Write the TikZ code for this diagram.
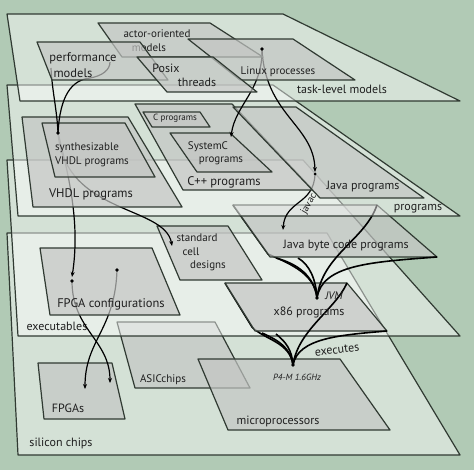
\documentclass[tikz,border=0pt]{standalone}
\usepackage{fontspec}
\setmainfont{PT Sans}
\usetikzlibrary{arrows.meta}
\definecolor{bg}{RGB}{177,202,181}
\definecolor{edge}{RGB}{48,58,50}
\definecolor{nodefill}{RGB}{196,198,196}
\newcommand\myfs[1]{\fontsize{#1}{#1}\selectfont}
\newcommand\mkbox[6]{%
  \coordinate (#1-tl) at (#3); \coordinate (#1-tr) at (#4);
  \coordinate (#1-br) at (#5); \coordinate (#1-bl) at (#6);
  \draw[#2] (#1-tl)--(#1-tr)--(#1-br)--(#1-bl)--cycle;}
\tikzset{
  layer/.style={draw=edge, line width=1.2pt, fill=white, fill opacity=0.45, line join=round},
  box/.style={draw=edge, line width=1.2pt, fill=nodefill, fill opacity=0.7, line join=round},
  conn/.style={draw=black, line width=1.2pt},
  fan/.style={draw=black, line width=1.6pt},
  arr/.style={-{Stealth[length=5pt,width=4pt]}},
  lbl/.style={inner sep=0pt, text=black!88, font=\myfs{12}},
  dot/.style={circle, fill=black, inner sep=0pt, minimum size=3.6pt},
}
\begin{document}
\begin{tikzpicture}[x=1pt,y=-1pt]
\fill[bg] (0,0) rectangle (474,470);
\useasboundingbox (0,0) rectangle (474,470);
% connection points
\coordinate (csyn) at (58,133);
\coordinate (clin) at (262,49);
\coordinate (cjava) at (315,174);
\coordinate (cfc1) at (72,281);
\coordinate (cfc2) at (117,270);
\coordinate (cjvm) at (317,298);
\coordinate (cp4) at (293,365);
\coordinate (asysc) at (231,137);
\coordinate (ajava) at (315,172);
\coordinate (ajbc) at (283,230);
\coordinate (astd) at (172,246);
\coordinate (afc) at (72,277);
\coordinate (afg1) at (110,383);
\coordinate (afg2) at (85,389);
\coordinate (pe1) at (51,68);
\coordinate (pe2) at (110,62);
\coordinate (x86-tl) at (225,283);
\coordinate (jbc-tl) at (233,205);
% ---------------- layer 4: silicon chips
\mkbox{L4}{layer}{7,233}{327,233}{460,455}{18,455}
\node[lbl] (tsil) at (61,443) {silicon chips};
\mkbox{fpgas}{box}{38,363}{112,363}{125,419}{44,419}
\node[lbl] (tfpgas) at (68,408) {FPGAs};
\mkbox{asic}{box}{117,322}{215,322}{250,388}{135,388}
\node[lbl,font=\myfs{11}] (tasic) at (163,380) {ASICchips};
\mkbox{micro}{box}{198,359}{340,359}{390,430}{228,430}
\node[lbl,font=\myfs{9}\itshape] (tp4) at (297,377) {P4-M 1.6GHz};
\node[lbl] (tmicro) at (278,421) {microprocessors};
% ---------------- layer 3: executables
\mkbox{L3}{layer}{7,160}{303,160}{460,336}{18,336}
\node[lbl] (texec) at (57,326) {executables};
\draw[conn,arr] (cfc1) .. controls (72,330) and (110,340) .. (afg1);
\draw[conn,arr] (cfc2) .. controls (115,330) and (85,340) .. (afg2);
\coordinate (x86-b1) at (252,327);
\coordinate (x86-b2) at (262,333);
\coordinate (x86-b3) at (276,334);
\draw[fan] (x86-tl) -- (x86-b1) .. controls (265,340) and (290,342) .. (cp4);
\draw[fan] (x86-b2) .. controls (278,340) and (291,348) .. (cp4);
\draw[fan] (x86-b3) .. controls (286,342) and (292,350) .. (cp4);
\node[lbl,rotate=7] (texecutes) at (337,350) {executes};
\mkbox{x86}{box}{225,283}{347,283}{387,331}{255,331}
\draw[fan] (x86-tr) .. controls (335,310) and (298,330) .. (cp4);
\draw[fan] (x86-br) .. controls (340,335) and (298,338) .. (cp4);
\node[lbl,font=\myfs{11}\itshape] (tjvm) at (334,296) {JVM};
\node[lbl] (tx86) at (309,313) {x86 programs};
\mkbox{fpgac}{box}{40,248}{152,248}{180,315}{50,315}
\node[lbl,font=\myfs{12.5}] (tfpgac) at (111,304) {FPGA configurations};
\mkbox{stdc}{box}{157,226}{228,226}{262,280}{180,280}
\node[lbl,font=\myfs{11}] (tstd1) at (197,238) {standard};
\node[lbl,font=\myfs{11}] (tstd2) at (191,252) {cell};
\node[lbl,font=\myfs{11}] (tstd3) at (208,266) {designs};
\coordinate (jbc-b1) at (268,254);
\coordinate (jbc-b2) at (276,258);
\coordinate (jbc-b3) at (298,258);
\draw[fan] (jbc-tl) -- (jbc-b1) .. controls (285,262) and (315,272) .. (cjvm);
\draw[fan] (jbc-b2) .. controls (298,264) and (314,276) .. (cjvm);
\draw[fan] (jbc-b3) .. controls (310,265) and (316,280) .. (cjvm);
\mkbox{jbc}{box}{233,205}{377,205}{437,257}{270,257}
\draw[fan] (jbc-tr) .. controls (365,240) and (322,255) .. (cjvm);
\draw[fan] (jbc-br) .. controls (370,262) and (322,265) .. (cjvm);
\node[lbl] (tjbc) at (346,246) {Java byte code programs};
% ---------------- layer 2: programs
\mkbox{L2}{layer}{7,85}{273,85}{460,216}{18,216}
\node[lbl] (tprog) at (418,209) {programs};
\draw[conn,arr] (csyn) .. controls (70,180) and (80,225) .. (afc);
\draw[conn,arr] (csyn) .. controls (65,215) and (165,205) .. (astd);
\draw[conn,arr] (cjava) .. controls (314,205) and (285,200) .. (ajbc);
\node[lbl,font=\myfs{10},rotate=60] (tjavac) at (309,204) {javac};
\mkbox{vhdl}{box}{22,117}{128,117}{182,207}{33,207}
\node[lbl,font=\myfs{12.5}] (tvhdl) at (91,194) {VHDL programs};
\mkbox{syn}{box}{42,123}{125,123}{155,177}{55,177}
\node[lbl,font=\myfs{11}] (tsyn1) at (87,148) {synthesizable};
\node[lbl,font=\myfs{11}] (tsyn2) at (92,162) {VHDL programs};
\mkbox{cpp}{box}{135,104}{232,104}{313,190}{183,190}
\node[lbl,font=\myfs{12.5}] (tcpp) at (224,182) {C++ programs};
\mkbox{cprog}{box}{143,112}{200,112}{210,127}{152,127}
\node[lbl,font=\myfs{9}] (tc) at (175,118) {C programs};
\mkbox{sysc}{box}{170,133}{230,133}{272,172}{197,172}
\node[lbl,font=\myfs{11}] (tsc1) at (208,147) {SystemC};
\node[lbl,font=\myfs{11}] (tsc2) at (221,161) {programs};
\mkbox{java}{box}{233,107}{296,107}{424,198}{320,198}
\node[lbl] (tjava) at (363,187) {Java programs};
% ---------------- layer 1: task-level models
\mkbox{L1}{layer}{7,14}{283,14}{460,101}{20,101}
\node[lbl] (ttask) at (342,89) {task-level models};
\draw[conn,arr] (clin) .. controls (263,90) and (235,105) .. (asysc);
\draw[conn,arr] (clin) .. controls (265,115) and (314,125) .. (ajava);
\draw[conn] (csyn) .. controls (57,110) and (52,90) .. (pe1);
\draw[conn] (csyn) .. controls (60,95) and (72,80) .. (90,78) .. controls (102,76) and (110,70) .. (pe2);
\mkbox{actor}{box}{98,23}{210,23}{263,57}{122,57}
\node[lbl,font=\myfs{11}] (tact1) at (157,34) {actor-oriented};
\node[lbl,font=\myfs{11}] (tact2) at (149,48) {models};
\mkbox{perf}{box}{37,42}{140,42}{168,80}{52,80}
\node[lbl,font=\myfs{12.5}] (tperf1) at (83,58) {performance};
\node[lbl,font=\myfs{12.5}] (tperf2) at (73,73) {models};
\mkbox{linux}{box}{188,39}{293,39}{355,80}{240,80}
\node[lbl,font=\myfs{11}] (tlin) at (278,72) {Linux processes};
\mkbox{posix}{box}{137,57}{213,57}{257,92}{167,92}
\node[lbl] (tpos1) at (166,68) {Posix};
\node[lbl] (tpos2) at (197,82) {threads};
% ---------------- dots
\node[dot] (dsyn) at (csyn) {};
\node[dot] (dlin) at (clin) {};
\node[dot,minimum size=3pt] (djava) at (cjava) {};
\node[dot] (dfc1) at (cfc1) {};
\node[dot] (dfc2) at (cfc2) {};
\node[dot] (djvm) at (cjvm) {};
\node[dot] (dp4) at (cp4) {};
\end{tikzpicture}
\end{document}
